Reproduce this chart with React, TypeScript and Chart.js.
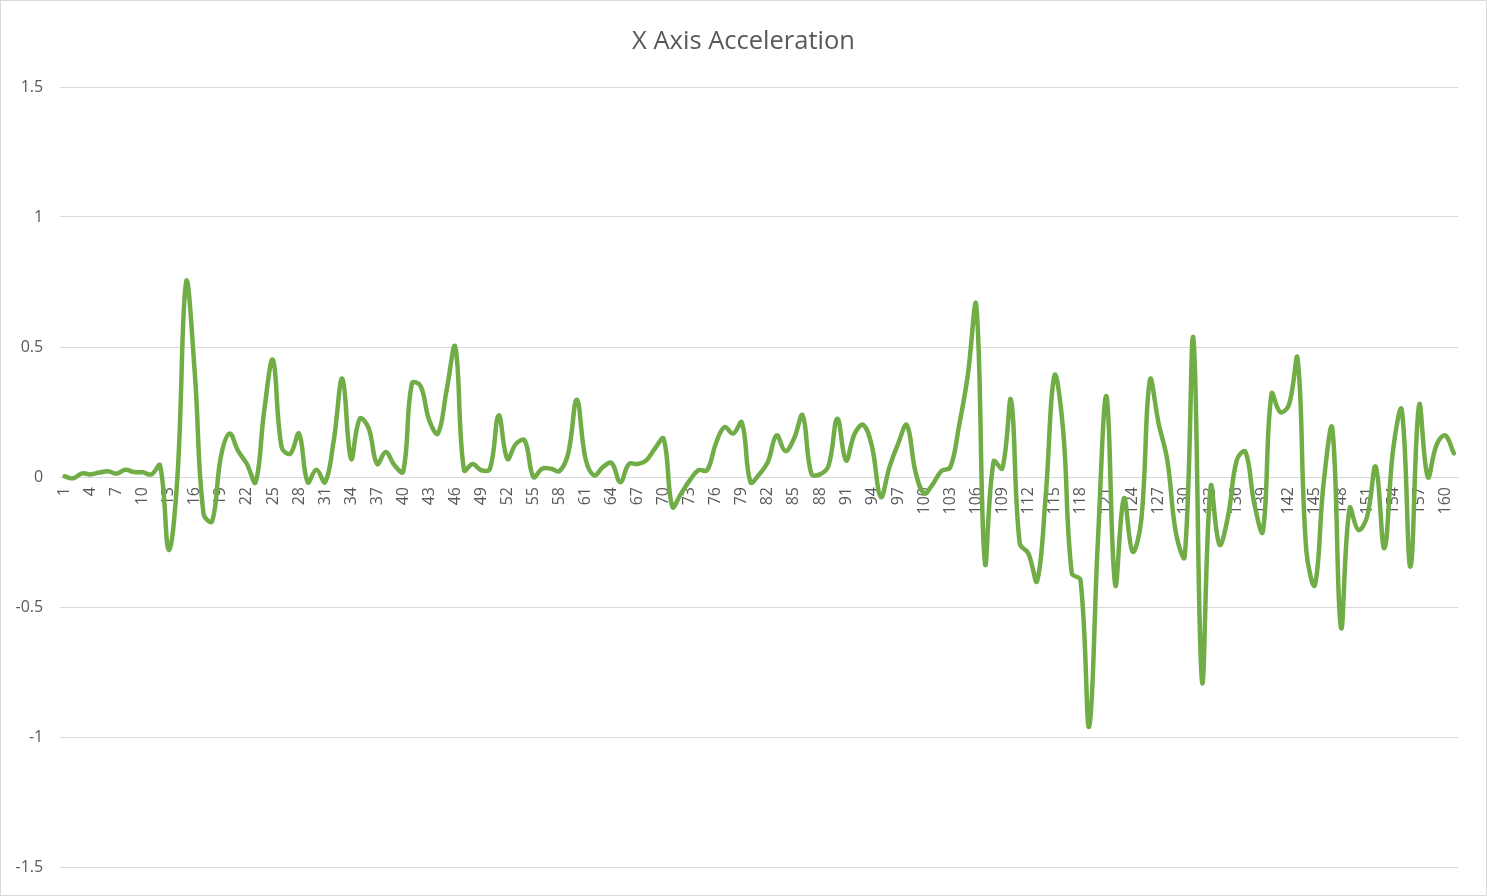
import React, { useEffect, useRef } from 'react';
import { Chart, registerables } from 'chart.js';

Chart.register(...registerables);

const chartTitle = 'X Axis Acceleration';

const categories: string[] = [
  '1','2','3','4','5','6','7','8','9','10','11','12','13','14','15','16','17','18','19','20',
  '21','22','23','24','25','26','27','28','29','30','31','32','33','34','35','36','37','38','39','40',
  '41','42','43','44','45','46','47','48','49','50','51','52','53','54','55','56','57','58','59','60',
  '61','62','63','64','65','66','67','68','69','70','71','72','73','74','75','76','77','78','79','80',
  '81','82','83','84','85','86','87','88','89','90','91','92','93','94','95','96','97','98','99','100',
  '101','102','103','104','105','106','107','108','109','110','111','112','113','114','115','116','117','118','119','120',
  '121','122','123','124','125','126','127','128','129','130','131','132','133','134','135','136','137','138','139','140',
  '141','142','143','144','145','146','147','148','149','150','151','152','153','154','155','156','157','158','159','160',
  '161'
];

const accelX: number[] = [
  0.003, -0.005, 0.014, 0.01, 0.017, 0.022, 0.013, 0.028, 0.019, 0.018,
  0.01, 0.044, -0.28, 0.0, 0.75, 0.4, -0.14, -0.17, 0.077, 0.167,
  0.1, 0.05, -0.02, 0.256, 0.45, 0.115, 0.09, 0.167, -0.02, 0.028,
  -0.02, 0.14, 0.378, 0.07, 0.224, 0.19, 0.05, 0.096, 0.045, 0.02,
  0.36, 0.35, 0.218, 0.167, 0.333, 0.5, 0.026, 0.05, 0.026, 0.032,
  0.237, 0.07, 0.128, 0.14, 0.0, 0.032, 0.032, 0.023, 0.09, 0.297,
  0.07, 0.006, 0.038, 0.054, -0.02, 0.05, 0.05, 0.064, 0.11, 0.147,
  -0.115, -0.064, -0.013, 0.026, 0.026, 0.128, 0.192, 0.167, 0.21, -0.02,
  0.01, 0.058, 0.16, 0.1, 0.147, 0.237, 0.013, 0.01, 0.045, 0.224,
  0.064, 0.167, 0.2, 0.115, -0.077, 0.038, 0.128, 0.2, 0.02, -0.063,
  -0.027, 0.024, 0.037, 0.194, 0.386, 0.66, -0.33, 0.06, 0.033, 0.296,
  -0.255, -0.294, -0.4, -0.07, 0.39, 0.18, -0.37, -0.396, -0.96, -0.25,
  0.31, -0.415, -0.082, -0.287, -0.165, 0.373, 0.206, 0.065, -0.217, -0.306,
  0.533, -0.787, -0.037, -0.26, -0.15, 0.065, 0.097, -0.1, -0.21, 0.32,
  0.25, 0.277, 0.456, -0.28, -0.415, -0.024, 0.187, -0.58, -0.12, -0.204,
  -0.153, 0.04, -0.274, 0.104, 0.258, -0.345, 0.277, 0.0, 0.123, 0.16,
  0.091
];

const yMin = -1.5;
const yMax = 1.5;
const yStep = 0.5;
const xLabelEvery = 3;

const FONT = "'Open Sans', 'Liberation Sans', sans-serif";
const TEXT_COLOR = '#595959';
const GRID_COLOR = '#D9D9D9';
const LINE_COLOR = '#70AD47';

export default function App() {
  const canvasRef = useRef<HTMLCanvasElement>(null);

  useEffect(() => {
    document.body.style.margin = '0';
    const canvas = canvasRef.current;
    if (!canvas) return;
    const chart = new Chart(canvas, {
      type: 'line',
      data: {
        labels: categories,
        datasets: [
          {
            label: chartTitle,
            data: accelX,
            yAxisID: 'y',
            borderColor: LINE_COLOR,
            backgroundColor: LINE_COLOR,
            borderWidth: 4.5,
            pointRadius: 0,
            pointHoverRadius: 0,
            tension: 0.4,
            borderCapStyle: 'round',
            borderJoinStyle: 'round',
            fill: false,
          },
        ],
      },
      options: {
        animation: false,
        responsive: false,
        maintainAspectRatio: false,
        events: [],
        layout: { padding: { left: 0, right: 0, top: 0, bottom: 28 } },
        plugins: {
          legend: { display: false },
          tooltip: { enabled: false },
          title: {
            display: true,
            text: chartTitle,
            color: TEXT_COLOR,
            font: { family: FONT, size: 25.5, weight: 'normal', lineHeight: 1.2 },
            padding: { top: 25.2, bottom: 30.2 },
          },
        },
        scales: {
          x: {
            type: 'category',
            position: { y: 0 } as any,
            offset: true,
            grid: { display: false, drawTicks: false },
            border: { display: true, color: GRID_COLOR, width: 1 },
            ticks: {
              autoSkip: false,
              maxRotation: 90,
              minRotation: 90,
              padding: 10,
              color: TEXT_COLOR,
              font: { family: FONT, size: 16 },
              callback: (_v: any, i: number) => (i % xLabelEvery === 0 ? categories[i] : ''),
            },
          },
          y: {
            position: 'left',
            min: yMin,
            max: yMax,
            grid: { color: GRID_COLOR, lineWidth: 1, drawTicks: false },
            border: { display: false },
            ticks: {
              stepSize: yStep,
              padding: 17,
              color: TEXT_COLOR,
              font: { family: FONT, size: 16 },
              callback: (v: any) => String(v),
            },
            afterFit: (scale: any) => {
              scale.width = 59.2;
            },
          },
          yRight: {
            position: 'right',
            min: yMin,
            max: yMax,
            grid: { display: false, drawTicks: false },
            border: { display: false },
            ticks: { display: false },
            afterFit: (scale: any) => {
              scale.width = 27.8;
            },
          },
        },
      },
    });
    return () => chart.destroy();
  }, []);

  return (
    <div
      style={{
        width: 1487,
        height: 896,
        boxSizing: 'border-box',
        border: `1px solid ${GRID_COLOR}`,
        background: '#FFFFFF',
      }}
    >
      <canvas ref={canvasRef} width={1485} height={894} style={{ display: 'block' }} />
    </div>
  );
}
